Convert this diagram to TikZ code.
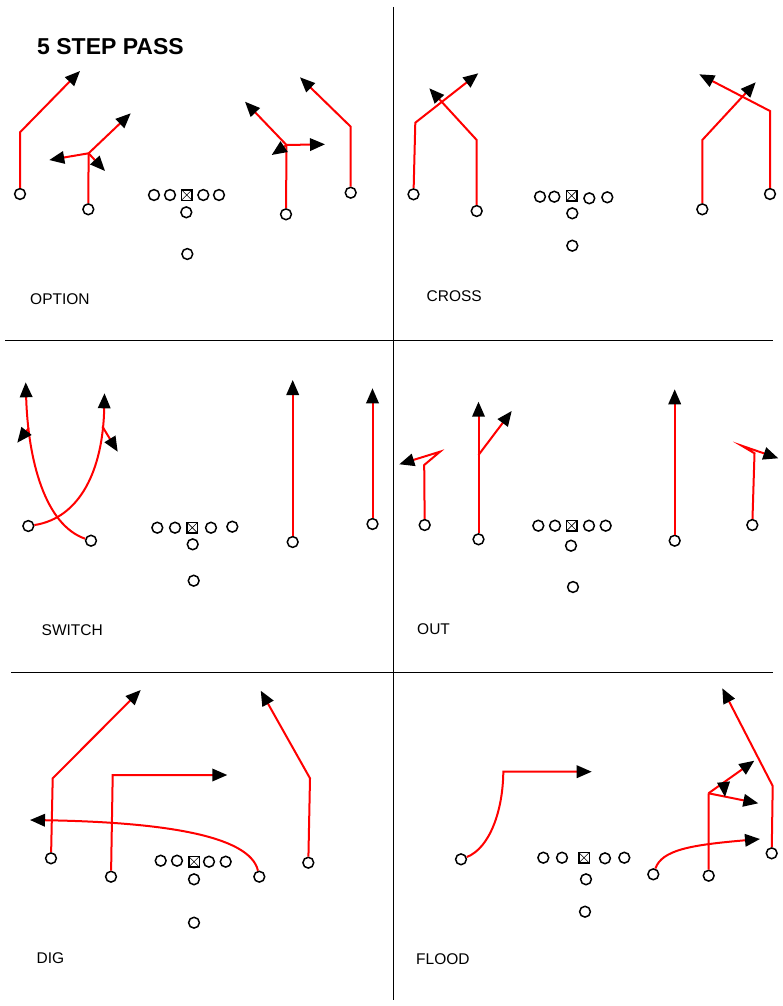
\documentclass[tikz,border=0pt]{standalone}
\usepackage{fontspec}
\setmainfont{Liberation Sans}
\usetikzlibrary{arrows.meta}
\tikzset{
  player/.style={circle, draw=black, line width=1.5pt, minimum size=10.8pt, inner sep=0pt, fill=white},
  snapper/.style={rectangle, draw=black, line width=1.5pt, minimum size=10.5pt, inner sep=0pt,
    path picture={\draw[line width=0.6pt] (path picture bounding box.north west) -- (path picture bounding box.south east)
      (path picture bounding box.north east) -- (path picture bounding box.south west);}},
  route/.style={red, line width=2pt},
  go/.style={route, -{Triangle[length=15pt,width=12.5pt,color=black,fill=black]}},
  divider/.style={black, line width=1pt},
  lbl/.style={anchor=west, inner sep=0pt, font=\fontsize{15.5}{17}\selectfont},
  ttl/.style={anchor=west, inner sep=0pt, font=\bfseries\fontsize{23}{25}\selectfont}
}
\begin{document}
\begin{tikzpicture}[x=1pt,y=-1pt]
\useasboundingbox (0,0) rectangle (783,1006);
\fill[white] (0,0) rectangle (783,1006);
% dividers
\coordinate (vt) at (393.3,7); \coordinate (vb) at (393.3,1000);
\coordinate (h1l) at (5,340.3); \coordinate (h1r) at (773,340.3);
\coordinate (h2l) at (11,672.3); \coordinate (h2r) at (773,672.3);
\draw[divider] (vt) -- (vb);
\draw[divider] (h1l) -- (h1r);
\draw[divider] (h2l) -- (h2r);
\node[ttl] (title) at (37,46.8) {5 STEP PASS};

% ===== OPTION =====
\node[player] (a1) at (20,194) {};
\coordinate (a1b) at (20,132.3); \coordinate (a1t) at (80,71);
\draw[go] (a1) -- (a1b) -- (a1t);
\node[player] (a2) at (88.3,209.3) {};
\coordinate (a2b) at (88.6,153.3);
\coordinate (a2l) at (49.3,160); \coordinate (a2u) at (130.7,113.3); \coordinate (a2d) at (105,171);
\draw[route] (a2) -- (a2b);
\draw[go] (a2b) -- (a2l);
\draw[go] (a2b) -- (a2u);
\draw[go] (a2b) -- (a2d);
\node[player] (a3) at (154,195) {};
\node[player] (a4) at (170,195) {};
\node[snapper] (a5) at (186.7,195) {};
\node[player] (a6) at (203.3,195) {};
\node[player] (a7) at (219,195) {};
\node[player] (aq) at (186.3,212.3) {};
\node[player] (ar) at (187.3,254) {};
\node[player] (a8) at (286,214.3) {};
\coordinate (a8b) at (286.5,145);
\coordinate (a8u) at (245,101.7); \coordinate (a8r) at (325,144.3); \coordinate (a8d) at (271.7,155);
\draw[route] (a8) -- (a8b);
\draw[go] (a8b) -- (a8u);
\draw[go] (a8b) -- (a8r);
\draw[go] (a8b) -- (a8d);
\node[player] (a9) at (350.7,192.7) {};
\coordinate (a9b) at (350.7,126.7); \coordinate (a9t) at (300,77.3);
\draw[go] (a9) -- (a9b) -- (a9t);
\node[lbl] (la) at (30,299.2) {OPTION};

% ===== CROSS =====
\node[player] (b1) at (413.5,194.3) {};
\coordinate (b1b) at (415.3,122.7); \coordinate (b1t) at (478.3,73.3);
\draw[go] (b1) -- (b1b) -- (b1t);
\node[player] (b2) at (476.7,211) {};
\coordinate (b2b) at (476.7,140); \coordinate (b2t) at (429.3,88.3);
\draw[go] (b2) -- (b2b) -- (b2t);
\node[player] (b3) at (540,196.7) {};
\node[player] (b4) at (554.3,196.7) {};
\node[snapper] (b5) at (571.7,195.7) {};
\node[player] (b6) at (589.3,198.3) {};
\node[player] (b7) at (607.3,197.3) {};
\node[player] (bq) at (572.3,213.3) {};
\node[player] (br) at (572.3,245.7) {};
\node[player] (b8) at (702.3,209.3) {};
\coordinate (b8b) at (702.3,140); \coordinate (b8t) at (755.7,82.3);
\draw[go] (b8) -- (b8b) -- (b8t);
\node[player] (b9) at (770,194) {};
\coordinate (b9b) at (770,111); \coordinate (b9t) at (699.3,74.3);
\draw[go] (b9) -- (b9b) -- (b9t);
\node[lbl] (lb) at (426.5,295.8) {CROSS};

% ===== SWITCH =====
\node[player] (c1) at (28.3,526) {};
\coordinate (c1t) at (104.5,393.3); \coordinate (c1b) at (102.4,426.5); \coordinate (c1d) at (117.7,451.7);
\draw[go] (c1) .. controls (80,518) and (103,470) .. (c1t);
\draw[go] (c1b) -- (c1d);
\node[player] (c2) at (91,540.7) {};
\coordinate (c2t) at (25.7,382.3); \coordinate (c2b) at (28.8,428); \coordinate (c2d) at (17.3,442.7);
\draw[go] (c2) .. controls (45,525) and (28,460) .. (c2t);
\draw[go] (c2b) -- (c2d);
\node[player] (c3) at (157.3,527.7) {};
\node[player] (c4) at (175,527.7) {};
\node[snapper] (c5) at (192.3,527.7) {};
\node[player] (c6) at (211,527.7) {};
\node[player] (c7) at (232.3,526.7) {};
\node[player] (cq) at (192.7,544.3) {};
\node[player] (cr) at (193.7,580.7) {};
\node[player] (c8) at (292.7,542) {};
\coordinate (c8t) at (292.7,380);
\draw[go] (c8) -- (c8t);
\node[player] (c9) at (372.5,524) {};
\coordinate (c9t) at (372.5,388.3);
\draw[go] (c9) -- (c9t);
\node[lbl] (lc) at (41.5,629.8) {SWITCH};

% ===== OUT =====
\node[player] (d1) at (424.7,525) {};
\coordinate (d1b) at (424.2,465); \coordinate (d1c) at (440,451.7); \coordinate (d1t) at (399.3,464.3);
\draw[go] (d1) -- (d1b) -- (d1c) -- (d1t);
\node[player] (d2) at (478.5,539.3) {};
\coordinate (d2t) at (478.5,401.7); \coordinate (d2b) at (478.5,455); \coordinate (d2u) at (511.7,411);
\draw[go] (d2) -- (d2t);
\draw[go] (d2b) -- (d2u);
\node[player] (d3) at (538.3,525.7) {};
\node[player] (d4) at (555,525.7) {};
\node[snapper] (d5) at (571.7,525.7) {};
\node[player] (d6) at (589,525.7) {};
\node[player] (d7) at (605.7,525.7) {};
\node[player] (dq) at (571,545.7) {};
\node[player] (dr) at (573,587) {};
\node[player] (d8) at (674.7,540.7) {};
\coordinate (d8t) at (674.7,389.3);
\draw[go] (d8) -- (d8t);
\node[player] (d9) at (752.3,525) {};
\coordinate (d9b) at (754.5,453.3); \coordinate (d9c) at (741.7,445.7); \coordinate (d9t) at (778.3,458.3);
\draw[go] (d9) -- (d9b) -- (d9c) -- (d9t);
\node[lbl] (ld) at (417,629.2) {OUT};

% ===== DIG =====
\node[player] (e1) at (51,858.3) {};
\coordinate (e1b) at (52.7,778.3); \coordinate (e1t) at (140.7,690);
\draw[go] (e1) -- (e1b) -- (e1t);
\node[player] (e2) at (111,876.7) {};
\coordinate (e2b) at (112.7,775); \coordinate (e2t) at (227.3,775);
\draw[go] (e2) -- (e2b) -- (e2t);
\node[player] (e3) at (160.7,860.7) {};
\node[player] (e4) at (177,860.7) {};
\node[snapper] (e5) at (194,861.7) {};
\node[player] (e6) at (209,861.7) {};
\node[player] (e7) at (225.7,861.7) {};
\node[player] (eq) at (194,879.3) {};
\node[player] (er) at (194,922.7) {};
\node[player] (e8) at (259.3,876.7) {};
\coordinate (e8t) at (30,820);
\draw[go] (e8) .. controls (250,835) and (160,822) .. (e8t);
\node[player] (e9) at (308.3,862.7) {};
\coordinate (e9b) at (310,778.3); \coordinate (e9t) at (260.7,690.7);
\draw[go] (e9) -- (e9b) -- (e9t);
\node[lbl] (le) at (36.5,958.2) {DIG};

% ===== FLOOD =====
\node[player] (f1) at (461,859.3) {};
\coordinate (f1b) at (503.3,771.7); \coordinate (f1t) at (591.7,771.7);
\draw[go] (f1) .. controls (490,848) and (503,810) .. (f1b) -- (f1t);
\node[player] (f2) at (543.3,857.7) {};
\node[player] (f3) at (562,857.7) {};
\node[snapper] (f4) at (584,857.7) {};
\node[player] (f5) at (605,858.3) {};
\node[player] (f6) at (624.3,857.7) {};
\node[player] (fq) at (586,879.3) {};
\node[player] (fr) at (585,911.7) {};
\node[player] (f7) at (653.3,874.3) {};
\coordinate (f7t) at (760,839);
\draw[go] (f7) .. controls (662,850) and (690,845) .. (f7t);
\node[player] (f8) at (708.7,875.7) {};
\coordinate (f8b) at (708.5,793.3); \coordinate (f8u) at (754.3,760.7); \coordinate (f8r) at (758.3,803.3);
\coordinate (f8s) at (723.5,782); \coordinate (f8d) at (725,797);
\draw[route] (f8) -- (f8b);
\draw[go] (f8b) -- (f8u);
\draw[go] (f8b) -- (f8r);
\draw[go] (f8s) -- (f8d);
\node[player] (f9) at (771.7,853.3) {};
\coordinate (f9b) at (772.7,786); \coordinate (f9t) at (722.3,688.3);
\draw[go] (f9) -- (f9b) -- (f9t);
\node[lbl] (lf) at (416,959.2) {FLOOD};
\end{tikzpicture}
\end{document}
